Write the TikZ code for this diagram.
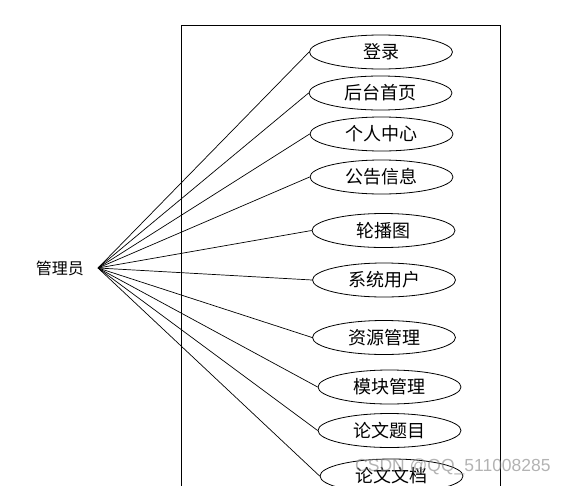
\documentclass[tikz,border=0pt]{standalone}
\usepackage{fontspec}
\newfontfamily\cjk{Noto Sans CJK SC}
\setsansfont{Liberation Sans}
\usepackage{tikz}
\usetikzlibrary{shapes.geometric}
\usetikzlibrary{positioning}

\begin{document}
\begin{tikzpicture}[x=1pt,y=-1pt]

    \tikzstyle{usecase}=[ellipse,draw,line width=0.8pt,inner sep=0pt,minimum width=143pt,minimum height=34pt,font=\cjk\fontsize{18}{18}\selectfont]
    \tikzstyle{assoc}=[line width=0.7pt]

    \useasboundingbox (0,0) rectangle (565,485);

    % system boundary
    \draw[line width=0.8pt] (181,25) rectangle (500,495);

    \coordinate (admin) at (98,268);
    \node (admin_label) [left=14pt of admin,inner sep=0pt,font=\cjk\fontsize{16}{16}\selectfont] {管理员};

\node (uc_login) [usecase] at (381,52) {登录};
\node (uc_home) [usecase] at (380.5,93) {后台首页};
\node (uc_profile) [usecase] at (381.5,134) {个人中心};
\node (uc_notice) [usecase] at (381.5,177) {公告信息};
\node (uc_banner) [usecase] at (383.5,230.5) {轮播图};
\node (uc_users) [usecase] at (384,280) {系统用户};
\node (uc_resource) [usecase] at (384,337.5) {资源管理};
\node (uc_module) [usecase] at (389.5,387) {模块管理};
\node (uc_topic) [usecase] at (389.5,430.5) {论文题目};
\node (uc_doc) [usecase] at (391.5,476) {论文文档};

\draw[assoc] (admin) -- (uc_login.west);
\draw[assoc] (admin) -- (uc_home.west);
\draw[assoc] (admin) -- (uc_profile.west);
\draw[assoc] (admin) -- (uc_notice.west);
\draw[assoc] (admin) -- (uc_banner.west);
\draw[assoc] (admin) -- (uc_users.west);
\draw[assoc] (admin) -- (uc_resource.west);
\draw[assoc] (admin) -- (uc_module.west);
\draw[assoc] (admin) -- (uc_topic.west);
\draw[assoc] (admin) -- (uc_doc.west);

% watermark
\node (watermark) [anchor=west,inner sep=0pt,text=gray,opacity=0.6,font=\sffamily\fontsize{17.5}{17.5}\selectfont] at (355,467) {CSDN @QQ\_511008285};

\end{tikzpicture}
\end{document}
